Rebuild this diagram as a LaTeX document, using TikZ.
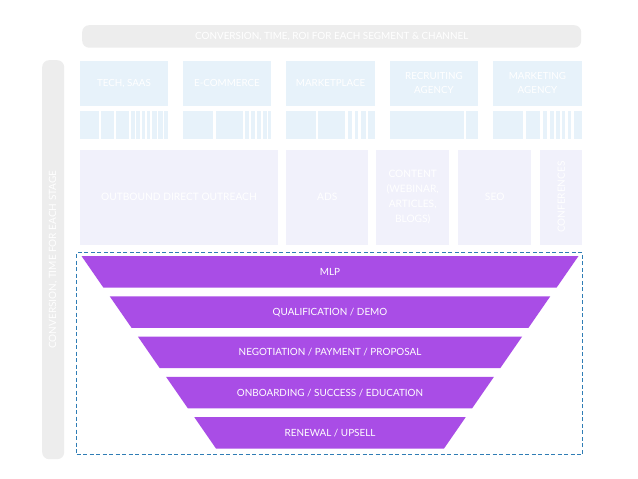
\documentclass[tikz,border=0pt]{standalone}
\usepackage{fontspec}
\setmainfont{Lato}
\definecolor{bargray}{HTML}{EDEDED}
\definecolor{segblue}{HTML}{E7F2FA}
\definecolor{chanlav}{HTML}{F1F1FB}
\definecolor{funnelpurple}{HTML}{A94DE6}
\definecolor{dashblue}{HTML}{2F7DB5}
\begin{document}
\begin{tikzpicture}[x=1pt,y=-1pt,
  graybar/.style={fill=bargray, rounded corners=7pt, inner sep=0pt, text=white},
  segbox/.style={fill=segblue, anchor=north west, inner sep=0pt, minimum width=88.5pt, minimum height=45pt, text=white, align=center, font=\fontsize{9.8}{14.5}\selectfont},
  chanbox/.style={fill=chanlav, anchor=north west, inner sep=0pt, minimum height=95pt, text=white, align=center, font=\fontsize{10.2}{15}\selectfont},
  funnelshape/.style={fill=funnelpurple},
  ftext/.style={text=white, font=\fontsize{9.9}{11}\selectfont, inner sep=0pt},
  stagebox/.style={draw=dashblue, line width=1pt, dash pattern=on 4pt off 2.5pt}
]
\useasboundingbox (0,0) rectangle (638,479);
\fill[white] (0,0) rectangle (638,479);

% top bar
\node[graybar, minimum width=499pt, minimum height=22.5pt, anchor=north west,
  font=\fontsize{9.9}{11}\selectfont] (topbar) at (82,25)
  {CONVERSION, TIME, ROI FOR EACH SEGMENT \& CHANNEL};

% left bar
\node[graybar, minimum width=22pt, minimum height=399pt, anchor=north west] (leftbar) at (42,60) {};
\node[rotate=90, text=white, font=\fontsize{10}{11}\selectfont, inner sep=0pt] (lefttext) at (leftbar.center) {CONVERSION, TIME FOR EACH STAGE};

% segments
\node[segbox] (s1) at (79.5,60.5) {TECH, SAAS};
\node[segbox] (s2) at (182.5,60.5) {E-COMMERCE};
\node[segbox] (s3) at (286.2,60.5) {MARKETPLACE};
\node[segbox] (s4) at (389.5,60.5) {RECRUITING\\AGENCY};
\node[segbox] (s5) at (493,60.5) {MARKETING\\AGENCY};

% segment sub-bars
\foreach \x/\bars in {
  79.5/{0/19,21.5/34,36/49,51/55,56.5/60.5,62/65.5,67/70.5,72/77,78.5/83,84.5/88.5},
  182.5/{0/30,33/60,62.5/66,68.5/72,74.5/78,80.5/84,85.5/88.5},
  286.2/{0/29.5,32/59,62/66,68.5/72,75/79.5,82/88.5},
  389.5/{0/74,76.5/88.5},
  493/{0/30,33/47,50/54,56.5/60.5,63/66.5,69/72,74.5/78,80.5/88.5}}{
  \foreach \a/\b in \bars {
    \fill[segblue] (\x+\a,111) rectangle (\x+\b,139);
  }
}

% channels
\node[chanbox, minimum width=198.5pt] (c1) at (79.5,149.5) {OUTBOUND DIRECT OUTREACH};
\node[chanbox, minimum width=82pt] (c2) at (286,149.5) {ADS};
\node[chanbox, minimum width=73pt] (c3) at (376,149.5) {CONTENT\\(WEBINAR,\\ARTICLES,\\BLOGS)};
\node[chanbox, minimum width=73pt] (c4) at (458,149.5) {SEO};
\node[chanbox, minimum width=42pt] (c5) at (540,149.5) {};
\node[rotate=90, text=white, font=\fontsize{10}{11}\selectfont, inner sep=0pt] (c5t) at (c5.center) {CONFERENCES};

% dashed stage box
\node[stagebox, anchor=north west, minimum width=506pt, minimum height=202pt, inner sep=0pt] (stages) at (76,252) {};

% funnel
\foreach \i in {0,...,4}{
  \pgfmathsetmacro\hw{248.5-28.2*\i}
  \pgfmathsetmacro\yt{256+40.3*\i}
  \fill[funnelshape] (330-\hw,\yt) -- (330+\hw,\yt) -- (330+\hw-21.8,\yt+31.5) -- (330-\hw+21.8,\yt+31.5) -- cycle;
}
\node[ftext] (f1) at (330,271.8) {MLP};
\node[ftext] (f2) at (330,312.1) {QUALIFICATION / DEMO};
\node[ftext] (f3) at (330,352.4) {NEGOTIATION / PAYMENT / PROPOSAL};
\node[ftext] (f4) at (330,392.7) {ONBOARDING / SUCCESS / EDUCATION};
\node[ftext] (f5) at (330,433.0) {RENEWAL / UPSELL};
\end{tikzpicture}
\end{document}
